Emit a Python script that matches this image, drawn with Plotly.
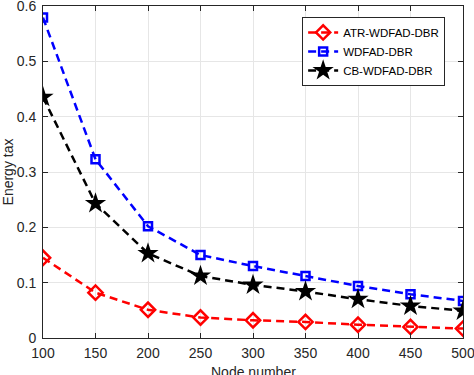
import plotly.graph_objects as go

nodes = [100, 150, 200, 250, 300, 350, 400, 450, 500]
atr = [0.145, 0.082, 0.051, 0.037, 0.032, 0.029, 0.024, 0.020, 0.017]
wdfad = [0.579, 0.323, 0.202, 0.150, 0.130, 0.112, 0.094, 0.079, 0.067]
cb = [0.435, 0.243, 0.153, 0.112, 0.096, 0.084, 0.070, 0.058, 0.049]
x_ticks = [100, 150, 200, 250, 300, 350, 400, 450, 500]
y_ticks = [0, 0.1, 0.2, 0.3, 0.4, 0.5, 0.6]
y_tick_labels = ["0", "0.1", "0.2", "0.3", "0.4", "0.5", "0.6"]

FONT = "Liberation Sans, Arial"
dash = "8px,5px"

fig = go.Figure()
fig.add_trace(go.Scatter(x=nodes, y=atr, name="ATR-WDFAD-DBR", mode="lines+markers",
                         line=dict(color="#ff0000", width=2.5, dash=dash),
                         marker=dict(symbol="diamond-open", size=11, color="#ff0000", line=dict(width=2.5, color="#ff0000"))))
fig.add_trace(go.Scatter(x=nodes, y=wdfad, name="WDFAD-DBR", mode="lines+markers",
                         line=dict(color="#0000ff", width=2.5, dash=dash),
                         marker=dict(symbol="square-open", size=8, color="#0000ff", line=dict(width=2.5, color="#0000ff"))))
fig.add_trace(go.Scatter(x=nodes, y=cb, name="CB-WDFAD-DBR", mode="lines+markers",
                         line=dict(color="#000000", width=2.5, dash=dash),
                         marker=dict(symbol="star", size=16, color="#000000", line=dict(width=0))))

axis_common = dict(showline=True, linecolor="#262626", linewidth=1, mirror="ticks",
                   ticks="inside", ticklen=5, tickcolor="#262626",
                   showgrid=True, gridcolor="#e6e6e6", gridwidth=1, zeroline=False,
                   ticklabeloverflow="allow", automargin=False,
                   tickfont=dict(family=FONT, size=14, color="#262626"))

fig.update_xaxes(range=[100, 500], tickvals=x_ticks, ticklabelstandoff=2, **axis_common)
fig.update_yaxes(range=[0, 0.6], tickvals=y_ticks, ticktext=y_tick_labels, ticklabelstandoff=3,
                 title=dict(text="Energy tax", font=dict(family=FONT, size=14, color="#262626"), standoff=2),
                 **axis_common)

fig.add_annotation(text="Node number", xref="paper", yref="paper", x=0.5, y=-0.103,
                   xanchor="center", yanchor="middle", showarrow=False,
                   font=dict(family=FONT, size=14, color="#262626"))

fig.update_layout(
    width=474, height=375,
    margin=dict(l=43, r=11, t=6, b=37),
    paper_bgcolor="white", plot_bgcolor="white",
    showlegend=True,
    legend=dict(x=0.617, y=0.967, xanchor="left", yanchor="top",
                bgcolor="white", bordercolor="#262626", borderwidth=1,
                font=dict(family=FONT, size=11.5, color="#000000"),
                tracegroupgap=0, itemwidth=30),
)

fig.write_html("out.html", config={"displayModeBar": False},
               post_script="document.body.style.margin='0px';")
